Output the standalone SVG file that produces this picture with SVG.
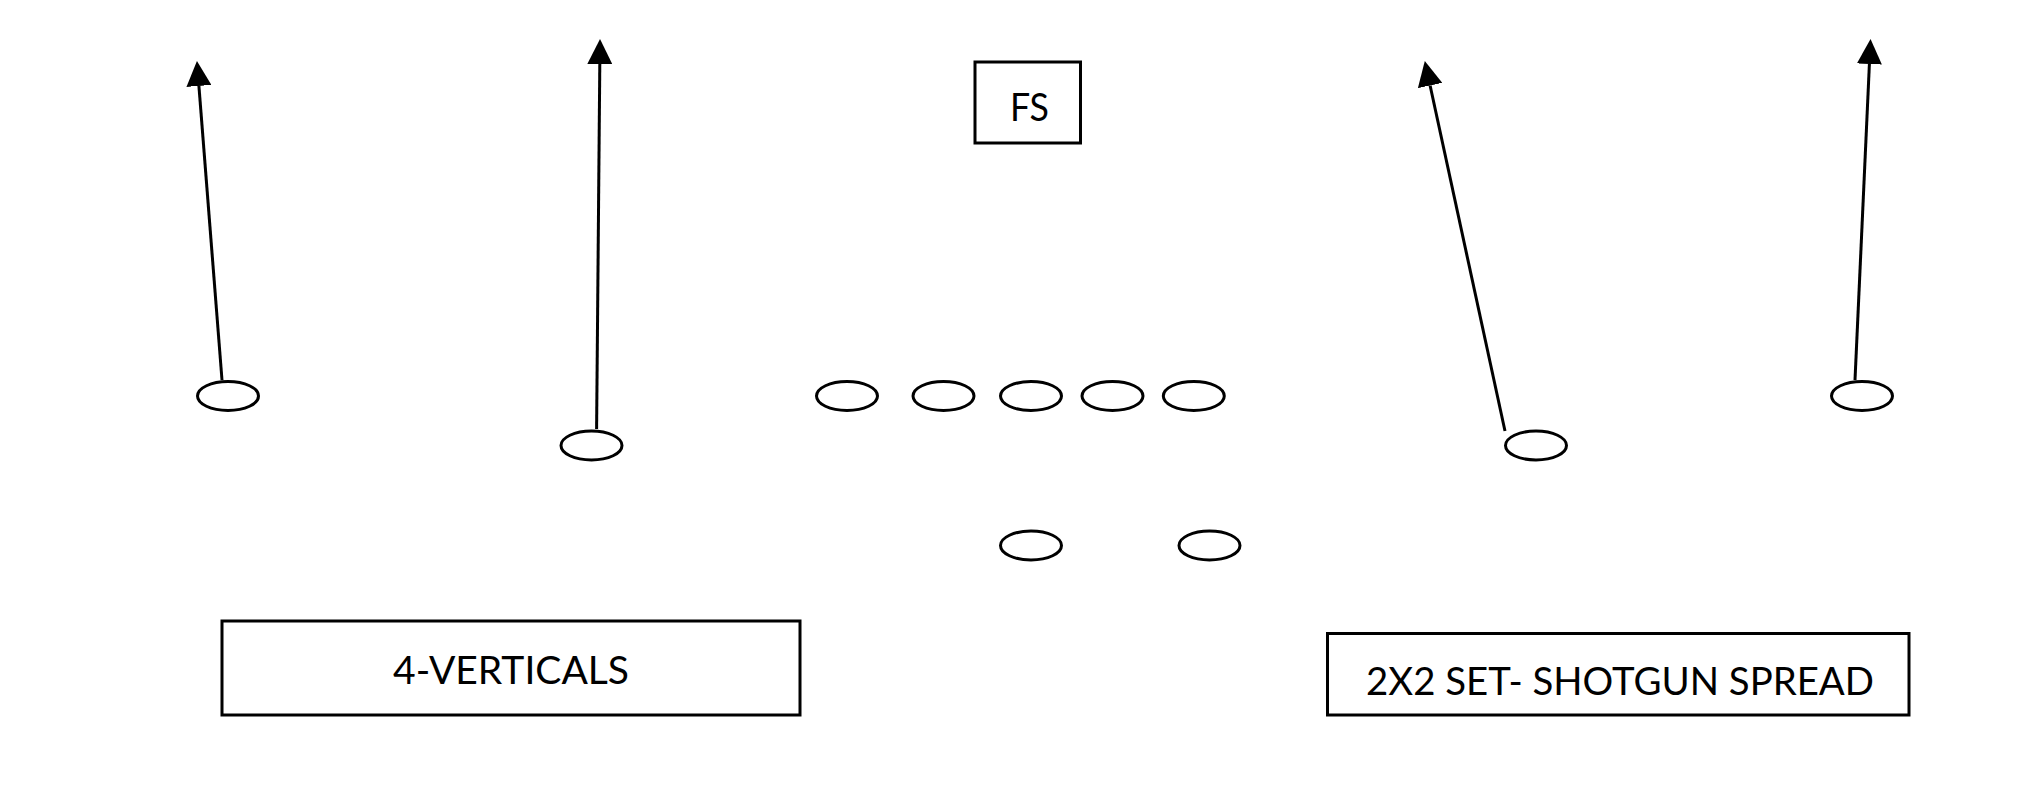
<svg xmlns="http://www.w3.org/2000/svg" width="2017" height="793" viewBox="0 0 2017 793">
<style>
.p{fill:none;stroke:#000;stroke-width:3}
.b{fill:#fff;stroke:#000;stroke-width:3}
.c{fill:none;stroke:#000;stroke-width:3}
.t{font-family:Lato,"Open Sans","Liberation Sans",sans-serif;font-size:38.5px;fill:#000;text-anchor:middle}
</style>
<defs>
<marker id="ah" markerUnits="userSpaceOnUse" viewBox="0 0 25 25" markerWidth="25" markerHeight="25" refX="0" refY="12.5" orient="auto">
<path d="M0,0 L25,12.5 L0,25 z" fill="#000"/>
</marker>
</defs>
<rect width="2017" height="793" fill="#fff"/>
<g id="connectors">
<line class="c" x1="222" y1="380" x2="198.9" y2="85.9" marker-end="url(#ah)"/>
<line class="c" x1="596.6" y1="429" x2="599.8" y2="64" marker-end="url(#ah)"/>
<line class="c" x1="1505" y1="431" x2="1430.1" y2="85.5" marker-end="url(#ah)"/>
<line class="c" x1="1855" y1="380" x2="1869.4" y2="64" marker-end="url(#ah)"/>
</g>
<g id="fs"><rect class="b" x="975" y="62" width="105.5" height="81"/><text class="t" x="1029.5" y="121" textLength="39" lengthAdjust="spacingAndGlyphs">FS</text></g>
<g id="wr1"><ellipse class="p" cx="228" cy="396" rx="30.5" ry="14.5"/></g>
<g id="wr2"><ellipse class="p" cx="591.5" cy="445.5" rx="30.5" ry="14.5"/></g>
<g id="ol1"><ellipse class="p" cx="847" cy="396" rx="30.5" ry="14.5"/></g>
<g id="ol2"><ellipse class="p" cx="943.5" cy="396" rx="30.5" ry="14.5"/></g>
<g id="ol3"><ellipse class="p" cx="1031" cy="396" rx="30.5" ry="14.5"/></g>
<g id="ol4"><ellipse class="p" cx="1112.5" cy="396" rx="30.5" ry="14.5"/></g>
<g id="ol5"><ellipse class="p" cx="1193.8" cy="396" rx="30.5" ry="14.5"/></g>
<g id="wr3"><ellipse class="p" cx="1536" cy="445.5" rx="30.5" ry="14.5"/></g>
<g id="wr4"><ellipse class="p" cx="1862" cy="396" rx="30.5" ry="14.5"/></g>
<g id="qb"><ellipse class="p" cx="1031" cy="545.5" rx="30.5" ry="14.5"/></g>
<g id="rb"><ellipse class="p" cx="1209.5" cy="545.5" rx="30.5" ry="14.5"/></g>
<g id="play"><rect class="b" x="222" y="621" width="578" height="94"/><text class="t" x="511" y="683.5" textLength="236" lengthAdjust="spacingAndGlyphs">4-VERTICALS</text></g>
<g id="formation"><rect class="b" x="1327.5" y="633.5" width="581.5" height="81.5"/><text class="t" x="1620" y="694.5" textLength="508" lengthAdjust="spacingAndGlyphs">2X2 SET- SHOTGUN SPREAD</text></g>
</svg>
